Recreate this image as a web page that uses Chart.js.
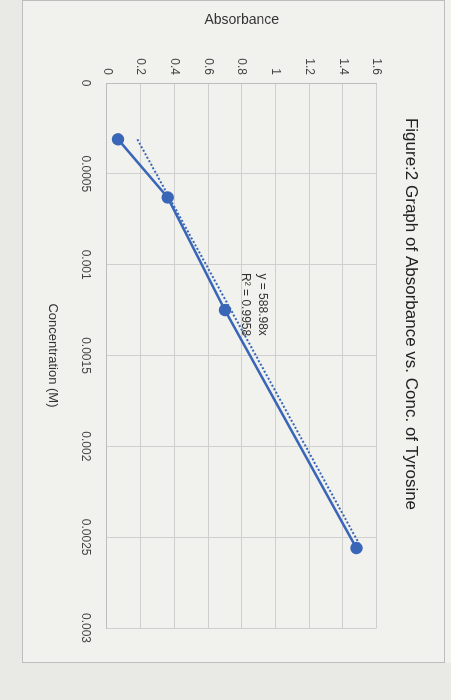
<!DOCTYPE html>
<html><head><meta charset="utf-8">
<script src="https://cdn.jsdelivr.net/npm/chart.js@4"></script>
<style>
html,body{margin:0;padding:0;background:#e9e9e6;width:451px;height:700px;overflow:hidden}
#wrap{position:absolute;left:451px;top:0;width:700px;height:451px;transform-origin:0 0;transform:rotate(90deg)}
</style></head><body>
<div id="wrap"><canvas id="c" width="700" height="451"></canvas></div>
<script>
const concentration = [0.00031, 0.00063, 0.00125, 0.00256];
const absorbance = [0.065, 0.36, 0.70, 1.48];
const trendConc = [0.00031, 0.00256];
const trendAbs = [0.18, 1.51];
const equationText = ["y = 588.98x", "R² = 0.9958"];
const equationPos = [[0.00122, 0.92], [0.00122, 0.82]];
const titleText = "Figure:2 Graph of Absorbance vs. Conc. of Tyrosine";
const xTitle = "Concentration (M)";
const yTitle = "Absorbance";

const blue = '#3a66b8';
const frame = {id:'frame', beforeDraw(ch){const c=ch.ctx;c.save();c.fillStyle='#f1f1ee';c.fillRect(0,0,663,429);c.strokeStyle='#bdbdbd';c.lineWidth=1;c.strokeRect(0.5,6.5,662,422);c.restore();}};
const eq = {id:'eq', afterDatasetsDraw(ch){const c=ch.ctx,x=ch.scales.x,y=ch.scales.y;c.save();c.fillStyle='#333';c.font='12px "Liberation Sans", sans-serif';c.textAlign='center';c.textBaseline='middle';
 equationText.forEach((t,i)=>c.fillText(t,x.getPixelForValue(equationPos[i][0]),y.getPixelForValue(equationPos[i][1])));c.restore();}};

new Chart(document.getElementById('c'),{
 type:'scatter',
 data:{datasets:[
  {data:concentration.map((v,i)=>({x:v,y:absorbance[i]})),showLine:true,borderColor:blue,backgroundColor:blue,borderWidth:2.5,pointRadius:5,pointHoverRadius:5},
  {data:trendConc.map((v,i)=>({x:v,y:trendAbs[i]})),showLine:true,borderColor:blue,borderDash:[2,2],borderWidth:2,pointRadius:0}
 ]},
 options:{responsive:false,animation:false,
  layout:{padding:{right:72,left:0,top:0,bottom:0}},
  plugins:{legend:{display:false},tooltip:{enabled:false},
   title:{display:true,text:titleText,color:'#222',font:{family:'"Liberation Sans", sans-serif',size:17,weight:'normal'},padding:{top:30,bottom:24}}},
  scales:{
   x:{type:'linear',min:0,max:0.003,
    ticks:{stepSize:0.0005,color:'#444',font:{family:'"Liberation Sans", sans-serif',size:12},padding:14,maxRotation:0,callback:v=>String(+v.toFixed(4))},
    grid:{color:'#cfcfcf',drawTicks:false},border:{color:'#bdbdbd'},
    title:{display:true,text:xTitle,color:'#333',font:{family:'"Liberation Sans", sans-serif',size:13},padding:{top:4,bottom:45}},
    afterFit(s){s.height=107;}},
   y:{min:0,max:1.6,
    ticks:{stepSize:0.2,color:'#444',font:{family:'"Liberation Sans", sans-serif',size:12},padding:8,callback:v=>String(+v.toFixed(1))},
    grid:{color:'#cfcfcf',drawTicks:false},border:{color:'#bdbdbd'},
    title:{display:true,text:yTitle,color:'#333',font:{family:'"Liberation Sans", sans-serif',size:14},padding:{top:12,bottom:4}},
    afterFit(s){s.width=83;}}
  }},
 plugins:[frame,eq]
});
</script></body></html>
